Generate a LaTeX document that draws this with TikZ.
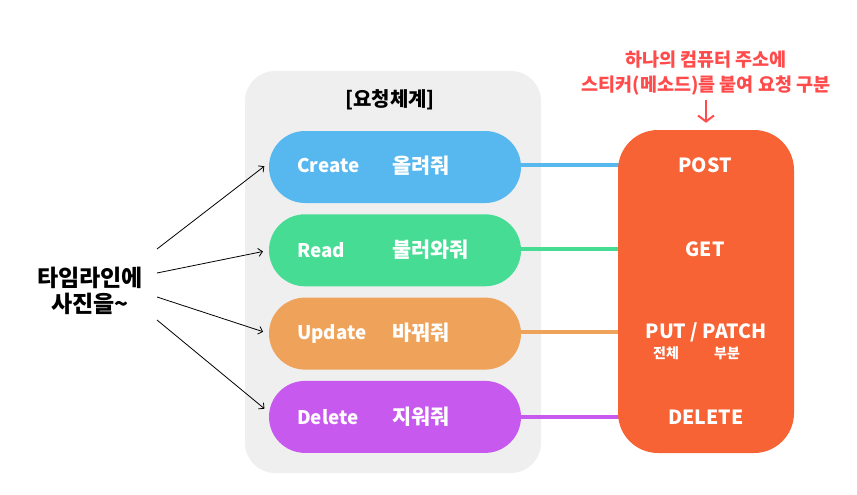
\documentclass[tikz,border=0pt]{standalone}
\usepackage{fontspec}
\setmainfont{Noto Sans CJK KR}
\usetikzlibrary{arrows.meta,shapes.misc,backgrounds}
\definecolor{panelgray}{HTML}{EFEFEF}
\definecolor{createblue}{HTML}{57B8F0}
\definecolor{readgreen}{HTML}{46DC94}
\definecolor{updateorange}{HTML}{EFA259}
\definecolor{deletepurple}{HTML}{C759EE}
\definecolor{methodorange}{HTML}{F76335}
\definecolor{notered}{HTML}{FF4B4B}
\tikzstyle{panel} = [rectangle, fill=panelgray, rounded corners=30pt, minimum width=296pt, minimum height=402pt, inner sep=0pt]
\tikzstyle{pill} = [rounded rectangle, rounded rectangle arc length=180, minimum width=252pt, minimum height=72pt, inner sep=0pt, node distance=83.3pt]
\tikzstyle{methods} = [rectangle, fill=methodorange, rounded corners=40pt, minimum width=176pt, minimum height=323pt, inner sep=0pt]
\tikzstyle{crud} = [anchor=west, text=white, font=\bfseries\fontsize{18.8}{22}\selectfont, inner sep=0pt]
\tikzstyle{crudko} = [anchor=west, text=white, font=\bfseries\fontsize{20.8}{24}\selectfont, inner sep=0pt]
\tikzstyle{verb} = [text=white, font=\bfseries\fontsize{19.5}{24}\selectfont, inner sep=0pt]
\tikzstyle{small} = [text=white, font=\bfseries\fontsize{14}{16}\selectfont, inner sep=0pt]
\tikzstyle{link} = [draw, line width=3.5pt]
\tikzstyle{line} = [draw, line width=0.8pt, -{Straight Barb[length=4pt,width=8pt]}, shorten >=6pt]

\begin{document}
\begin{tikzpicture}[x=1pt,y=-1pt]
    \useasboundingbox (0,0) rectangle (857,495);
    % Place nodes
    \begin{scope}[on background layer]
    \node [panel] (panel) at (393,272) {};
    \node [pill,fill=createblue] (create) at (395,167) {};
    \node [pill,fill=readgreen,below of=create] (read) {};
    \node [pill,fill=updateorange,below of=read] (update) {};
    \node [pill,fill=deletepurple,below of=update] (delete) {};
    \end{scope}
    \node [methods] (box) at (706,291.5) {};
    \node [inner sep=0pt,font=\bfseries\fontsize{20}{22}\selectfont] (title) at (390,100) {[요청체계]};

    \node [crud] (createname) at (297,166) {Create};
    \node [crud] (readname) at (297,250) {Read};
    \node [crud] (updatename) at (297,334) {Update};
    \node [crud] (deletename) at (297,417) {Delete};

    \node [crudko] (createko) at (392,166) {올려줘};
    \node [crudko] (readko) at (392,250) {불러와줘};
    \node [crudko] (updateko) at (392,333) {바꿔줘};
    \node [crudko] (deleteko) at (392,417) {지워줘};

    \node [verb] (post) at (705,165) {POST};
    \node [verb] (get) at (705,249) {GET};
    \node [verb] (put) at (706,332) {PUT / PATCH};
    \node [small] (whole) at (666,353) {전체};
    \node [small] (part) at (727,353) {부분};
    \node [verb] (del) at (706,417) {DELETE};

    \node [align=center,inner sep=0pt,font=\bfseries\fontsize{23}{26}\selectfont] (photo) at (90,291) {타임라인에\\사진을\textasciitilde};
    \node [align=center,inner sep=0pt,text=notered,font=\bfseries\fontsize{18.5}{25}\selectfont] (note) at (706,73) {하나의 컴퓨터 주소에\\스티커(메소드)를 붙여 요청 구분};

    \coordinate (from1) at (157,249);
    \coordinate (from2) at (157,273);
    \coordinate (from3) at (157,297);
    \coordinate (from4) at (157,320);

    % Draw edges
    \begin{scope}[on background layer]
    \path [link,createblue] (post -| create) -- (post);
    \path [link,readgreen] (get -| read) -- (get);
    \path [link,updateorange] (put -| update) -- (put);
    \path [link,deletepurple] (del -| delete) -- (del);
    \end{scope}
    \path [line] (from1) -- (create.178);
    \path [line] (from2) -- (read.west);
    \path [line] (from3) -- (update.west);
    \path [line] (from4) -- (delete.178);
    \path [line,notered,line width=2pt,shorten <=5pt,shorten >=7pt,-{Straight Barb[length=6pt,width=16pt]}] (note.south) -- (box.north);
\end{tikzpicture}
\end{document}
